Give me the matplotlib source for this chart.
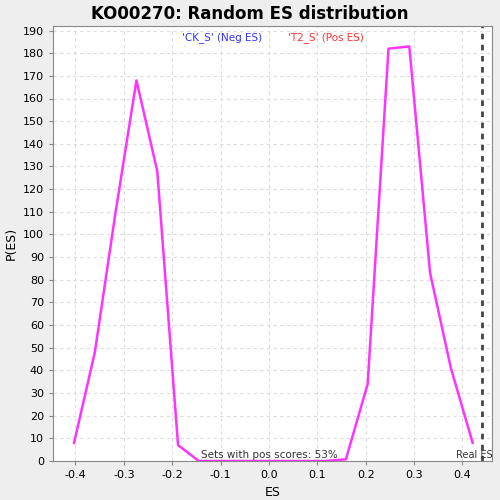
import matplotlib
matplotlib.use("Agg")
import matplotlib.pyplot as plt

# Random ES distribution (ES bin centre, P(ES))
es_values = [-0.403, -0.360, -0.317, -0.274, -0.231, -0.188, -0.145, -0.101,
             -0.058, -0.014, 0.029, 0.072, 0.116, 0.159, 0.204, 0.247,
             0.290, 0.333, 0.376, 0.421]
p_values = [8, 48, 110, 168, 128, 7, 0, 0,
            0, 0, 0, 0, 0, 0.75, 34, 182,
            183, 83, 41, 8]

real_es = 0.441
x_ticks = [-0.4, -0.3, -0.2, -0.1, 0.0, 0.1, 0.2, 0.3, 0.4]
y_ticks = list(range(0, 200, 10))

fig = plt.figure(figsize=(5, 5), dpi=100, facecolor="#eeeeee")
ax = fig.add_axes([0.106, 0.078, 0.878, 0.870])
ax.set_facecolor("white")

ax.plot(es_values, p_values, color="#ff33ff", linewidth=1.8)
ax.axvline(real_es, color="#444444", linestyle=(0, (2, 2)), linewidth=2)

ax.set_xlim(-0.4465, 0.461)
ax.set_ylim(0, 192)
ax.set_xticks(x_ticks)
ax.set_xticklabels([f"{t:.1f}" for t in x_ticks])
ax.set_yticks(y_ticks)
ax.tick_params(labelsize=8, length=3, color="#888888")
ax.grid(True, color="#dddddd", linestyle=(0, (3, 3)), linewidth=0.8)
for s in ax.spines.values():
    s.set_color("#888888")

ax.set_xlabel("ES", fontsize=9)
ax.set_ylabel("P(ES)", fontsize=9)
fig.suptitle("KO00270: Random ES distribution", fontsize=12, fontweight="bold", y=0.99)

ax.text(0.0, 0.5, "Sets with pos scores: 53%", fontsize=7.5, color="#333333",
        ha="center", va="bottom")
ax.text(0.387, 0.5, "Real ES", fontsize=7, color="#333333",
        ha="left", va="bottom")
ax.text(-0.097, 187, "'CK_S' (Neg ES)", fontsize=7.5, color="#3333ff", ha="center", va="center")
ax.text(0.118, 187, "'T2_S' (Pos ES)", fontsize=7.5, color="#ff3333", ha="center", va="center")

fig.savefig("out.png", dpi=100, facecolor=fig.get_facecolor())
